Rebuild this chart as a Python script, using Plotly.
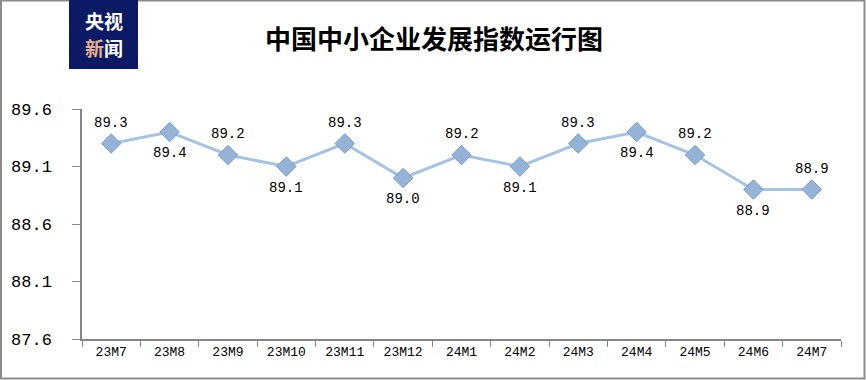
import plotly.graph_objects as go

categories = ["23M7", "23M8", "23M9", "23M10", "23M11", "23M12", "24M1",
              "24M2", "24M3", "24M4", "24M5", "24M6", "24M7"]
values = [89.3, 89.4, 89.2, 89.1, 89.3, 89.0, 89.2, 89.1, 89.3, 89.4, 89.2, 88.9, 88.9]
label_side = [1, -1, 1, -1, 1, -1, 1, -1, 1, -1, 1, -1, 1]
y_ticks = [87.6, 88.1, 88.6, 89.1, 89.6]
title_text = "中国中小企业发展指数运行图"

W, H = 866, 380
L, R, T, B = 82, 25, 109, 41
pw, ph = W - L - R, H - T - B


def px(x):
    return (x - L) / pw


def py(y):
    return (H - B - y) / ph


fig = go.Figure()
fig.add_trace(go.Scatter(
    x=categories, y=values, mode="lines+markers",
    line=dict(color="#A7C3E2", width=3),
    marker=dict(symbol="diamond", size=15, color="#95B3D7",
                line=dict(color="#7B9CC9", width=1)),
    hoverinfo="x+y", showlegend=False,
))

annotations = []
for c, v, s in zip(categories, values, label_side):
    annotations.append(dict(
        x=c, y=v, xref="x", yref="y", text=f"{v:.1f}", showarrow=False,
        xanchor="center", yanchor="middle",
        yshift=21 * s, font=dict(family="Liberation Mono, monospace", size=14, color="#000"),
    ))

# logo text
annotations.append(dict(x=px(103.5), y=py(20), xref="paper", yref="paper",
                        xanchor="center", yanchor="middle",
                        text="<b>央视</b>", showarrow=False,
                        font=dict(family="Noto Sans CJK SC", size=19, color="#ffffff")))
annotations.append(dict(x=px(103.5), y=py(48), xref="paper", yref="paper",
                        xanchor="center", yanchor="middle",
                        text="<b><span style='color:#E8B08A'>新</span>闻</b>", showarrow=False,
                        font=dict(family="Noto Sans CJK SC", size=19, color="#ffffff")))
# title
annotations.append(dict(x=px(434), y=py(37), xref="paper", yref="paper",
                        xanchor="center", yanchor="middle",
                        text="<b>" + title_text + "</b>", showarrow=False,
                        font=dict(family="Noto Sans CJK SC", size=26, color="#000")))

shapes = [
    dict(type="rect", xref="paper", yref="paper",
         x0=px(1), x1=px(864.5), y0=py(0.5), y1=py(378.5),
         line=dict(color="#8C8C8C", width=2), fillcolor="rgba(0,0,0,0)", layer="below"),
    dict(type="rect", xref="paper", yref="paper",
         x0=px(69), x1=px(138), y0=py(0), y1=py(69),
         line=dict(width=0), fillcolor="#0C1A66", layer="below"),
]

fig.update_layout(
    width=W, height=H,
    margin=dict(l=L, r=R, t=T, b=B),
    paper_bgcolor="#ffffff", plot_bgcolor="#ffffff",
    annotations=annotations, shapes=shapes,
    xaxis=dict(type="category", range=[-0.5, 12.5], showgrid=False,
               showline=True, linecolor="#868686", linewidth=1.5,
               ticks="outside", ticklen=6, tickcolor="#868686", tickson="boundaries",
               tickfont=dict(family="Liberation Mono, monospace", size=13, color="#000"),
               zeroline=False, fixedrange=True),
    yaxis=dict(range=[87.6, 89.6], tickvals=y_ticks, ticktext=[f"{t:.1f}" for t in y_ticks],
               showgrid=False, showline=True, linecolor="#868686", linewidth=1.5,
               ticks="outside", ticklen=8, tickcolor="#868686",
               ticklabelstandoff=17,
               tickfont=dict(family="Liberation Mono, monospace", size=17, color="#000"),
               zeroline=False, fixedrange=True),
)

fig.write_html("out.html", config={"displayModeBar": False},
               post_script="document.body.style.margin='0';document.body.style.overflow='hidden';")
